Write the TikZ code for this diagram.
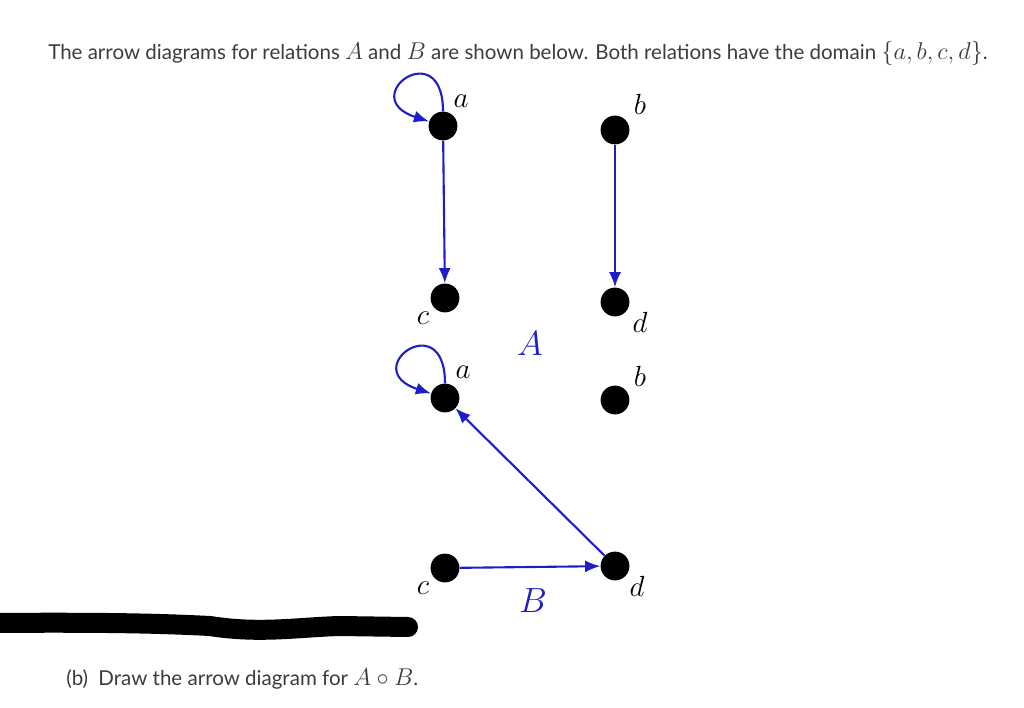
\documentclass[tikz,border=0pt]{standalone}
\usepackage{fontspec}
\setmainfont{Lato}
\usetikzlibrary{arrows.meta}
\definecolor{arrowblue}{RGB}{30,30,200}
\definecolor{textgray}{RGB}{60,60,60}
\newcommand{\bigmath}[1]{{\fontsize{18}{20}\selectfont$#1$}}
\tikzset{
  elem/.style={circle, fill=black, minimum size=0.72cm, inner sep=0pt},
  elemlabel/.style={font=\fontsize{20}{24}\selectfont, inner sep=0pt},
  rel/.style={arrowblue, line width=1.5pt, -{Latex[length=0.38cm, width=0.3cm]}},
  selfloop/.style={rel, out=90, in=162, min distance=1.95cm},
  relname/.style={arrowblue, font=\fontsize{26}{30}\selectfont, inner sep=0pt},
  question/.style={textgray, font=\fontsize{14.6}{18}\selectfont, inner sep=0pt, anchor=base west}
}
\begin{document}
\begin{tikzpicture}[x=0.025cm, y=-0.025cm]
  \useasboundingbox[fill=white] (0,0) rectangle (1024,708);

  % Question text
  \node[question] (title) at (48,60) {The arrow diagrams for relations \bigmath{A} and \bigmath{B} are shown below. Both relations have the domain \bigmath{\{a,b,c,d\}}.};

  % Relation A
  \node[elem] (Aa) at (443,126) {};
  \node[elem] (Ab) at (615,130) {};
  \node[elem] (Ac) at (445,298) {};
  \node[elem] (Ad) at (615,302) {};
  \node[elemlabel] (Aal) at (461,101) {$a$};
  \node[elemlabel] (Abl) at (640,104) {$b$};
  \node[elemlabel] (Acl) at (423,318) {$c$};
  \node[elemlabel] (Adl) at (640,322) {$d$};
  \node[relname] (Aname) at (530,344) {$A$};
  \draw[selfloop] (Aa) to (Aa);
  \draw[rel] (Aa) -- (Ac);
  \draw[rel] (Ab) -- (Ad);

  % Relation B
  \node[elem] (Ba) at (445,398) {};
  \node[elem] (Bb) at (615,400) {};
  \node[elem] (Bc) at (445,568) {};
  \node[elem] (Bd) at (615,566) {};
  \node[elemlabel] (Bal) at (463,372) {$a$};
  \node[elemlabel] (Bbl) at (640,376) {$b$};
  \node[elemlabel] (Bcl) at (423,588) {$c$};
  \node[elemlabel] (Bdl) at (637,586) {$d$};
  \node[relname] (Bname) at (533,601) {$B$};
  \draw[selfloop] (Ba) to (Ba);
  \draw[rel] (Bd) -- (Ba);
  \draw[rel] (Bc) -- (Bd);

  % Scribble
  \draw[line width=0.5cm, line cap=round] (-10,623) .. controls (120,622) and (170,624) .. (210,626)
    .. controls (260,634) and (300,627) .. (340,626) -- (408,627);

  % Part (b)
  \node[question] (partb) at (66,685) {(b)\enspace Draw the arrow diagram for \bigmath{A\circ B}.};
\end{tikzpicture}
\end{document}
